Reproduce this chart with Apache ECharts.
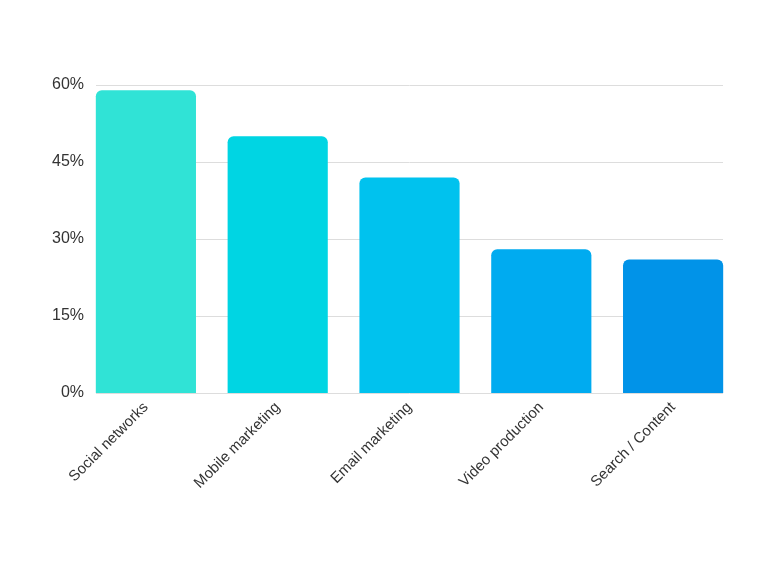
<!DOCTYPE html>
<html>
<head>
<meta charset="utf-8">
<script src="https://cdn.jsdelivr.net/npm/echarts@6/dist/echarts.min.js"></script>
<style>html,body{margin:0;background:#fff}#c{width:768px;height:576px}</style>
</head>
<body>
<div id="c"></div>
<script>
// 类别与数值
var categories = ['Social networks', 'Mobile marketing', 'Email marketing', 'Video production', 'Search / Content'];
var values = [59, 50, 42, 28, 26];
var barColors = ['#30e3d6', '#00d5e3', '#00c2ee', '#00abf0', '#0193e8'];

var data = values.map(function (v, i) {
    return {value: v, itemStyle: {color: barColors[i]}};
});

var Chart = echarts.init(document.getElementById('c'));
Chart.setOption({
    animation: false,
    grid: [
        {left: 96, right: 45, top: 85, bottom: 183},
        {left: 80, right: 29, top: 85, bottom: 183}
    ],
    xAxis: [
        {gridIndex: 0, type: 'category', data: categories, show: false},
        {
            gridIndex: 1, type: 'category', data: categories,
            axisLine: {show: false}, axisTick: {show: false},
            axisLabel: {rotate: 45, color: '#333', fontSize: 15, fontFamily: 'Liberation Sans', interval: 0, margin: 12}
        }
    ],
    yAxis: [
        {
            gridIndex: 0, type: 'value', min: 0, max: 60, interval: 15,
            axisLabel: {formatter: '{value}%', color: '#333', fontSize: 16, fontFamily: 'Liberation Sans', margin: 12},
            splitLine: {lineStyle: {color: '#ddd'}},
            axisLine: {show: false}, axisTick: {show: false}
        },
        {gridIndex: 1, type: 'value', min: 0, max: 60, interval: 15, show: false}
    ],
    series: [
        {
            type: 'bar', xAxisIndex: 1, yAxisIndex: 1,
            barCategoryGap: '24%',
            itemStyle: {borderRadius: [6, 6, 0, 0]},
            data: data
        }
    ]
});
</script>
</body>
</html>
